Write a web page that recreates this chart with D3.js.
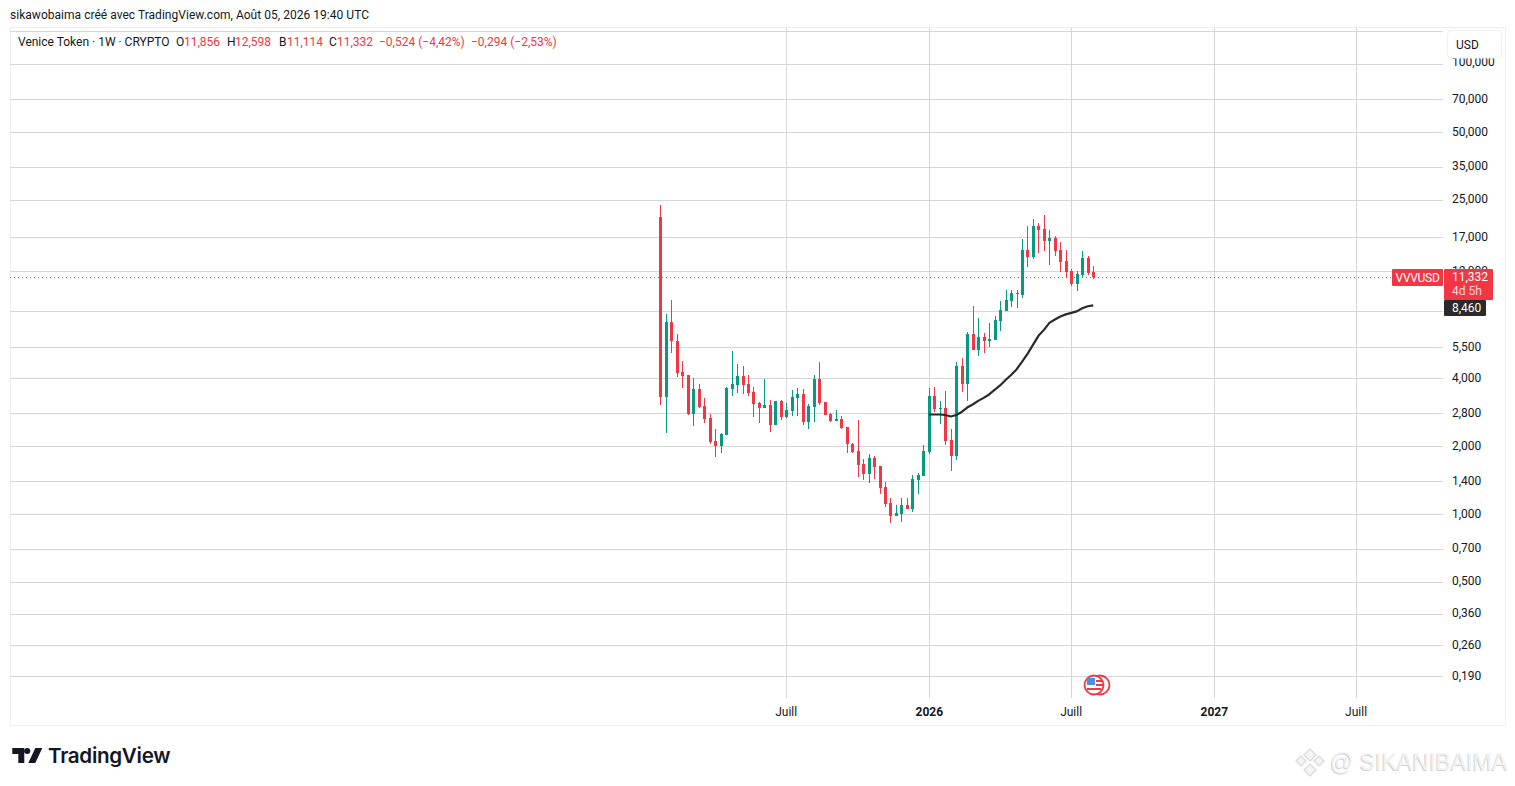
<!DOCTYPE html>
<html><head><meta charset="utf-8">
<script src="https://cdn.jsdelivr.net/npm/d3@7"></script>
<style>
html,body{margin:0;padding:0;background:#fff;overflow:hidden}
svg{display:block}
text{font-family:"Roboto",sans-serif;font-size:12px;fill:#131722}
</style></head><body>
<svg id="c" width="1515" height="786"></svg>
<script>
const opens=[20.94,3.32,7.14,5.90,4.28,4.15,2.79,3.59,3.02,2.67,2.11,2.00,2.245,3.59,3.745,4.105,3.78,3.485,3.11,2.96,3.05,2.485,3.18,2.70,2.87,3.28,3.41,2.56,2.99,3.98,3.145,2.78,2.59,2.64,2.434,2.045,1.904,1.666,1.504,1.772,1.633,1.316,1.117,0.978,0.998,1.095,1.05,1.414,1.473,1.884,3.344,2.927,2.957,2.13,1.808,4.55,3.78,6.31,5.36,6.12,5.877,5.937,7.213,7.992,8.854,9.61,9.416,14.93,13.9,19.09,18.51,16.38,16.89,14.93,13.34,12.04,10.54,11.56,13.76,11.856];
const highs=[23.69,7.75,8.945,6.31,4.79,4.16,4.02,3.78,3.28,2.78,2.385,2.29,3.67,5.30,4.64,4.55,4.15,3.67,3.145,3.98,3.21,3.19,3.21,3.11,3.557,3.63,3.59,3.08,4.15,4.74,3.15,2.81,2.90,2.72,2.44,2.066,2.615,1.753,1.846,1.808,1.635,1.385,1.176,1.095,1.176,1.176,1.488,1.52,2.024,3.63,3.67,3.18,3.52,2.385,4.74,4.937,6.44,8.41,7.44,6.38,7.067,7.59,8.854,9.911,9.911,9.911,16.71,19.09,20.51,19.69,21.37,18.33,17.24,16.21,14.93,12.29,12.04,14.78,14.04,12.598];
const lows=[3.05,2.30,5.21,4.07,3.64,2.75,2.46,2.96,2.535,2.045,1.79,1.865,2.24,3.34,3.45,3.41,3.34,2.70,2.535,2.955,2.31,2.48,2.615,2.67,2.72,2.72,2.485,2.385,2.56,3.05,2.745,2.56,2.585,2.385,1.865,1.865,1.458,1.414,1.371,1.428,1.225,1.072,0.91,0.975,0.919,1.048,1.019,1.225,1.47,1.846,2.839,2.51,2.024,1.551,1.736,3.485,3.18,5.35,5.04,5.197,5.527,5.93,6.511,7.98,8.326,8.24,9.13,12.55,13.62,14.48,14.78,12.81,14.04,11.92,11.33,10.33,9.81,11.21,11.56,11.114];
const closes=[3.32,7.14,5.89,4.25,4.105,2.78,3.59,2.99,2.64,2.087,2.00,2.266,3.63,3.78,4.105,3.745,3.45,3.08,2.96,3.05,2.485,3.18,2.70,2.90,3.31,3.41,2.56,3.02,3.98,3.11,2.75,2.59,2.64,2.41,2.045,1.884,1.649,1.504,1.772,1.616,1.303,1.106,0.978,1.008,1.095,1.05,1.428,1.488,1.904,3.344,2.927,2.957,2.11,1.808,4.55,3.78,6.31,5.36,6.12,5.877,5.998,7.287,8.074,8.945,9.61,9.46,14.93,13.9,19.09,18.33,16.38,16.89,14.78,13.21,11.92,10.54,11.68,13.76,11.80,11.332];
const smaValues=[2.767,2.767,2.767,2.753,2.711,2.753,2.839,2.97,3.066,3.18,3.28,3.397,3.557,3.725,3.94,4.148,4.39,4.74,5.144,5.64,6.19,6.58,7.067,7.32,7.55,7.71,7.83,7.95,8.21,8.38,8.46];
const smaStartBar=49;
const priceTicks=[140,100,70,50,35,25,17,12,8,5.5,4,2.8,2,1.4,1,0.7,0.5,0.36,0.26,0.19];
const hiddenPriceLabels=[140,8];
const timeTickDates=["2025-07-07","2026-01-05","2026-07-06","2027-01-04","2027-07-05"];
const timeTickLabels=["Juill","2026","Juill","2027","Juill"];
const firstBar="2025-01-27";
const lastPrice=11.332, lastSma=8.46;

const RED="#F23645",GREEN="#089981",GRID="#d6d6d6";
const svg=d3.select("#c");
const parse=d3.utcParse("%Y-%m-%d");
const start=parse(firstBar);
const dates=opens.map((_,i)=>d3.utcMonday.offset(start,i));
const x=d3.scaleUtc().domain([start,parse(timeTickDates[4])]).range([660.3,1356.3]);
const y=d3.scaleLog().domain([100,0.19]).range([64.1,676.1]);
const fr=d3.formatLocale({decimal:",",thousands:" ",grouping:[3],currency:["",""]});
const f3=fr.format(".3f");
const L=10,R=1443,T=28,B=698;
const px=v=>Math.round(x(v))+.5, py=v=>Math.round(y(v))+.5;

// frame
svg.append("rect").attr("x",10.5).attr("y",27.5).attr("width",1495).attr("height",698).attr("fill","none").attr("stroke","#eeeeee");

// grid
const grid=svg.append("g").attr("shape-rendering","crispEdges").attr("stroke",GRID);
grid.selectAll(".h").data(priceTicks).join("line").attr("x1",L).attr("x2",R).attr("y1",py).attr("y2",py);
grid.selectAll(".v").data(timeTickDates.map(parse)).join("line").attr("x1",px).attr("x2",px).attr("y1",T).attr("y2",B);

// axes
const ya=d3.axisRight(y).tickValues(priceTicks).tickFormat(v=>hiddenPriceLabels.includes(v)?"":f3(v)).tickSize(0).tickPadding(0);
const gy=svg.append("g").attr("transform","translate(1452,-1)").call(ya);
gy.select(".domain").remove();
gy.selectAll("text").attr("dy",d=>d===100?"0.22em":"0.35em").style("font-size","12px").attr("fill","#131722");

const xa=d3.axisBottom(x).tickValues(timeTickDates.map(parse)).tickFormat((d,i)=>timeTickLabels[i]).tickSize(0).tickPadding(0);
const gx=svg.append("g").attr("transform","translate(0,707)").call(xa);
gx.select(".domain").remove();
gx.selectAll("text").attr("dy","0.71em").attr("dx",(d,i)=>/^\d/.test(timeTickLabels[i])?0:-0.7).attr("fill","#131722").style("font-size","12px").style("font-weight",(d,i)=>/^\d/.test(timeTickLabels[i])?"700":"400");

// last-price dotted line
svg.append("line").attr("x1",L).attr("x2",1392).attr("y1",py(lastPrice)).attr("y2",py(lastPrice))
  .attr("stroke",RED).attr("stroke-width",1).attr("stroke-dasharray","1 3").attr("shape-rendering","crispEdges");

// candles
const data=dates.map((d,i)=>({d,o:opens[i],h:highs[i],l:lows[i],c:closes[i]}));
const cg=svg.append("g").attr("shape-rendering","crispEdges");
const color=d=>d.c>=d.o?GREEN:RED;
cg.selectAll(".w").data(data).join("line").attr("x1",d=>px(d.d)).attr("x2",d=>px(d.d))
  .attr("y1",d=>Math.round(y(d.h))).attr("y2",d=>Math.round(y(d.l))).attr("stroke",color);
cg.selectAll(".b").data(data).join("rect").attr("x",d=>px(d.d)-1.5).attr("width",3)
  .attr("y",d=>Math.round(y(Math.max(d.o,d.c))))
  .attr("height",d=>Math.max(1,Math.round(y(Math.min(d.o,d.c)))-Math.round(y(Math.max(d.o,d.c)))))
  .attr("fill",color);

// SMA
const line=d3.line().x((v,i)=>x(dates[smaStartBar+i])).y(v=>y(v)).curve(d3.curveLinear);
svg.append("path").datum(smaValues).attr("d",line).attr("fill","none").attr("stroke","#2a2a2a").attr("stroke-width",2.2).attr("stroke-linejoin","round");

// USD box
svg.append("rect").attr("x",1447.5).attr("y",30.5).attr("width",54).attr("height",27.5).attr("rx",4).attr("fill","#fff").attr("stroke","#f0f0f0");
svg.append("text").attr("x",1456).attr("y",49).text("USD");

// price labels
svg.append("rect").attr("x",1392).attr("y",269).attr("width",51).attr("height",17).attr("rx",1).attr("fill",RED);
svg.append("text").attr("x",1417.5).attr("y",282).attr("text-anchor","middle").style("fill","#fff").style("letter-spacing","-0.3px").text("VVVUSD");
svg.append("rect").attr("x",1444).attr("y",269).attr("width",49).attr("height",31).attr("rx",1).attr("fill",RED);
svg.append("text").attr("x",1452).attr("y",281).style("fill","#fff").text(f3(lastPrice));
svg.append("text").attr("x",1452).attr("y",295).style("fill","#ffd6da").text("4d 5h");
svg.append("rect").attr("x",1444).attr("y",300).attr("width",42).attr("height",16).attr("rx",1).attr("fill","#2a2a2a");
svg.append("text").attr("x",1452).attr("y",312).style("fill","#fff").text(f3(lastSma));

// header
svg.append("text").attr("x",10).attr("y",19).style("letter-spacing","0.03px").text("sikawobaima créé avec TradingView.com, Août 05, 2026 19:40 UTC");
const legend=[["Venice Token · 1W · CRYPTO",18,0],["O",176,0],["11,856",184,1],["H",227,0],["12,598",235,1],["B",279,0],["11,114",287,1],["C",329,0],["11,332",337,1],["−0,524 (−4,42%)",379,1],["−0,294 (−2,53%)",471,1]];
svg.append("g").selectAll("text").data(legend).join("text").attr("x",d=>d[1]).attr("y",46).style("fill",d=>d[2]?RED:"#131722").text(d=>d[0]);

// event flag
const fg=svg.append("g");
fg.append("circle").attr("cx",1100).attr("cy",685).attr("r",9.5).attr("fill","#fff").attr("stroke",RED).attr("stroke-width",1.8);
fg.append("circle").attr("cx",1094).attr("cy",685).attr("r",9.5).attr("fill","#fff").attr("stroke",RED).attr("stroke-width",1.8);
fg.append("rect").attr("x",1087).attr("y",678).attr("width",8).attr("height",7).attr("fill","#4a90e2");
[[1096,680,6],[1096,684,7],[1087,688,14]].forEach(s=>fg.append("rect").attr("x",s[0]).attr("y",s[1]).attr("width",s[2]).attr("height",2).attr("fill",RED));

// TradingView logo
svg.append("path").attr("transform","translate(10.3,742)").attr("fill","#131722")
  .attr("d","M14 6H2v6h6v9h6V6Zm11 15h-7l7-15h7l-7 15Zm-8-9a3 3 0 1 0 0-6 3 3 0 0 0 0 6Z");
svg.append("text").attr("x",48).attr("y",763).style("font-family","Inter").style("font-size","20.6px").style("font-weight","600").style("letter-spacing","-0.3px").text("TradingView");

// watermark
const wm=svg.append("g").attr("fill","#f4f4f4").attr("stroke","#dcdcdc").attr("stroke-width",1.4);
wm.append("path").attr("d","M1310 749l6 6-6 6-6-6Z M1301 756l5 5-5 5-5-5Z M1319 756l5 5-5 5-5-5Z M1310 764l6 6-6 6-6-6Z");
svg.append("text").attr("x",1329).attr("y",770.6).style("font-family","Liberation Sans").style("font-size","23.1px").style("fill","#d2d2d2").text("@ SIKANIBAIMA");
svg.append("text").attr("x",1330).attr("y",770).style("font-family","Liberation Sans").style("font-size","23.1px").style("fill","#f2f2f2").text("@ SIKANIBAIMA");
</script>
</body></html>
